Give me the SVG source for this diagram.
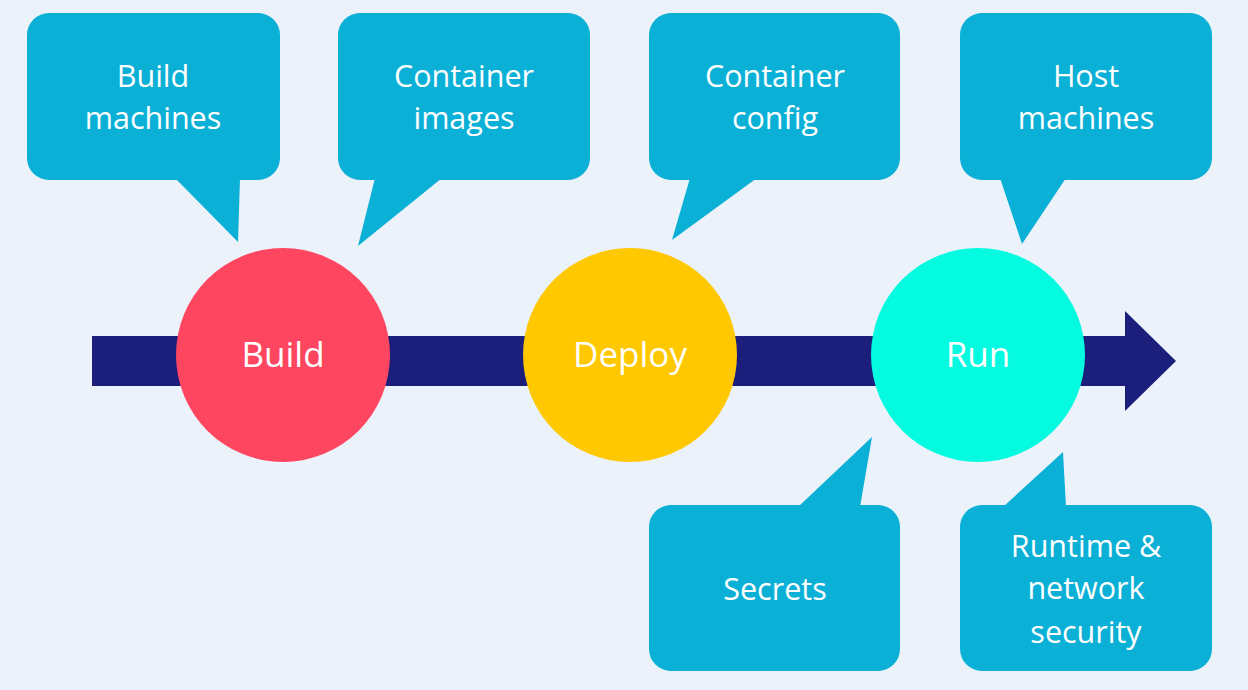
<svg xmlns="http://www.w3.org/2000/svg" width="1248" height="690" viewBox="0 0 1248 690">
<style>
.co{fill:#0BB0D6}
.t{fill:#fff;font-family:"Open Sans","Liberation Sans",sans-serif;font-size:30.5px;text-anchor:middle}
.c{font-size:35px}
</style>
<rect width="1248" height="690" fill="#EBF2F9"/>
<g id="connectors">
<rect x="92" y="336" width="1035" height="50" fill="#1B1F7B"/>
<polygon points="1125,311 1176,361 1125,411" fill="#1B1F7B"/>
</g>
<g id="build-machines"><rect class="co" x="27" y="13" width="253" height="167" rx="22"/><polygon class="co" points="175,178 240,178 238,242"/><text class="t" x="153" y="87">Build</text><text class="t" x="153" y="129">machines</text></g>
<g id="container-images"><rect class="co" x="338" y="13" width="252" height="167" rx="22"/><polygon class="co" points="375,178 442,178 358,246"/><text class="t" x="464" y="87">Container</text><text class="t" x="464" y="129">images</text></g>
<g id="container-config"><rect class="co" x="649" y="13" width="251" height="167" rx="22"/><polygon class="co" points="690,178 757,178 672,240"/><text class="t" x="775" y="87">Container</text><text class="t" x="775" y="129">config</text></g>
<g id="host-machines"><rect class="co" x="960" y="13" width="252" height="167" rx="22"/><polygon class="co" points="1000,178 1066,178 1022,244"/><text class="t" x="1086" y="87">Host</text><text class="t" x="1086" y="129">machines</text></g>
<g id="secrets"><rect class="co" x="649" y="505" width="251" height="166" rx="22"/><polygon class="co" points="798,507 860,507 872,437"/><text class="t" x="775" y="600">Secrets</text></g>
<g id="runtime"><rect class="co" x="960" y="505" width="252" height="166" rx="22"/><polygon class="co" points="1003,507 1066,507 1063,452"/><text class="t" x="1086" y="557">Runtime &amp;</text><text class="t" x="1086" y="599">network</text><text class="t" x="1086" y="643">security</text></g>
<g id="build"><circle cx="283" cy="355" r="107" fill="#FF4660"/><text class="t c" x="283" y="367">Build</text></g>
<g id="deploy"><circle cx="630" cy="355" r="107" fill="#FFC800"/><text class="t c" x="630" y="367">Deploy</text></g>
<g id="run"><circle cx="978" cy="355" r="107" fill="#05FBE0"/><text class="t c" x="978" y="367">Run</text></g>
</svg>
